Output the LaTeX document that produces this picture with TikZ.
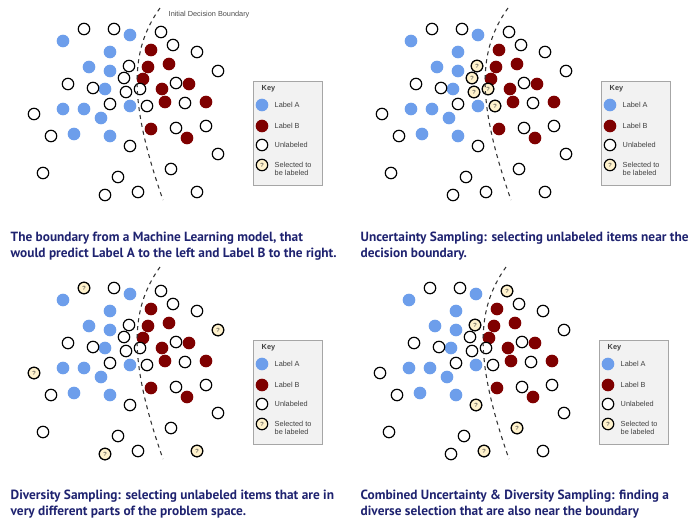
\documentclass[tikz,border=0pt]{standalone}
\usepackage{fontspec}
\setmainfont{Liberation Sans}
\newfontfamily\capfont{PT Sans}
\definecolor{labela}{HTML}{6D9EEB}
\definecolor{labelb}{HTML}{7F0000}
\definecolor{pick}{HTML}{FFF2CC}
\definecolor{capblue}{HTML}{1F2370}
\tikzset{
  dota/.style={circle, fill=labela, inner sep=0pt, minimum size=9.5pt},
  dotb/.style={circle, fill=labelb, inner sep=0pt, minimum size=9.5pt},
  dotu/.style={circle, draw=black, line width=0.9pt, fill=white, inner sep=0pt, minimum size=8.6pt},
  dotq/.style={dotu, fill=pick, font=\fontsize{4.5}{5}\selectfont, text=black!80},
  keytext/.style={font=\fontsize{5.5}{6.5}\selectfont, text=black!75, anchor=west, align=left},
  caption/.style={font=\capfont\bfseries\fontsize{10}{12}\selectfont, text=capblue, anchor=north west, align=left}
}
\newcommand{\drawpanel}[3]{%
  \begin{scope}[shift={(#1,#2)}]
    \foreach \px/\py in {63/41,130/35,110/52,89/67,110/71,105/89,63/109,84/109,101/118,130/106,74/134,110/136}
      \node[dota] at (\px,\py) {};
    \foreach \px/\py in {151/50,148/67,169/64,143/79,189/84,162/89,165/102,206/102,151/129,187/138}
      \node[dotb] at (\px,\py) {};
    \foreach \px/\py in {84/29,114/29,161/32,173/45,197/52,218/71,129/66,124/78,68/84,93/88,126/92,140/89,176/83,110/104,147/106,185/103,34/114,206/126,176/128,51/136,130/146,218/154,43/173,118/177,171/169,105/195,138/192,197/192}
      \node[dotu] at (\px,\py) {};
    \foreach \px/\py in {#3}
      \node[dotq] at (\px,\py) {?};
    \draw[dashed, line width=0.8pt, black!80] (160,8) .. controls (130,50) and (128,100) .. (163,200);
    % key
    \node[draw=black!35, fill=black!5, line width=0.8pt, minimum width=52pt, minimum height=78pt, anchor=north west, inner sep=0pt] (key) at (253,81) {};
    \node[keytext, font=\bfseries\fontsize{5.5}{6.5}\selectfont] (keyhead) at (257,89) {Key};
    \node[dota] (keya) at (262,105) {};
    \node[keytext] at (270,105) {Label A};
    \node[dotb] (keyb) at (262,126) {};
    \node[keytext] at (270,126) {Label B};
    \node[dotu] (keyu) at (262,145) {};
    \node[keytext] at (270,145) {Unlabeled};
    \node[dotq] (keyq) at (262,165) {?};
    \node[keytext] at (270,169) {Selected to\\be labeled};
  \end{scope}}
\begin{document}
\begin{tikzpicture}[x=0.75pt, y=-0.75pt]
  \useasboundingbox (0,0) rectangle (696,525);
  \drawpanel{0}{0}{}
  \node[font=\fontsize{5.5}{6.5}\selectfont, text=black!70, anchor=west] (title) at (164,15) {Initial Decision Boundary};
  \drawpanel{348}{0}{129/66,124/78,126/92,140/89,147/106}
  \drawpanel{0}{259}{84/29,218/71,34/114,105/195,197/192}
  \drawpanel{346}{259}{161/32,129/66,130/146,171/169,138/192}
  \node[caption] (cap1) at (6,227) {The boundary from a Machine Learning model, that\\would predict Label A to the left and Label B to the right.};
  \node[caption] (cap2) at (356,227) {Uncertainty Sampling: selecting unlabeled items near the\\decision boundary.};
  \node[caption] (cap3) at (6,485) {Diversity Sampling: selecting unlabeled items that are in\\very different parts of the problem space.};
  \node[caption] (cap4) at (356,485) {Combined Uncertainty \& Diversity Sampling: finding a\\diverse selection that are also near the boundary};
\end{tikzpicture}
\end{document}
